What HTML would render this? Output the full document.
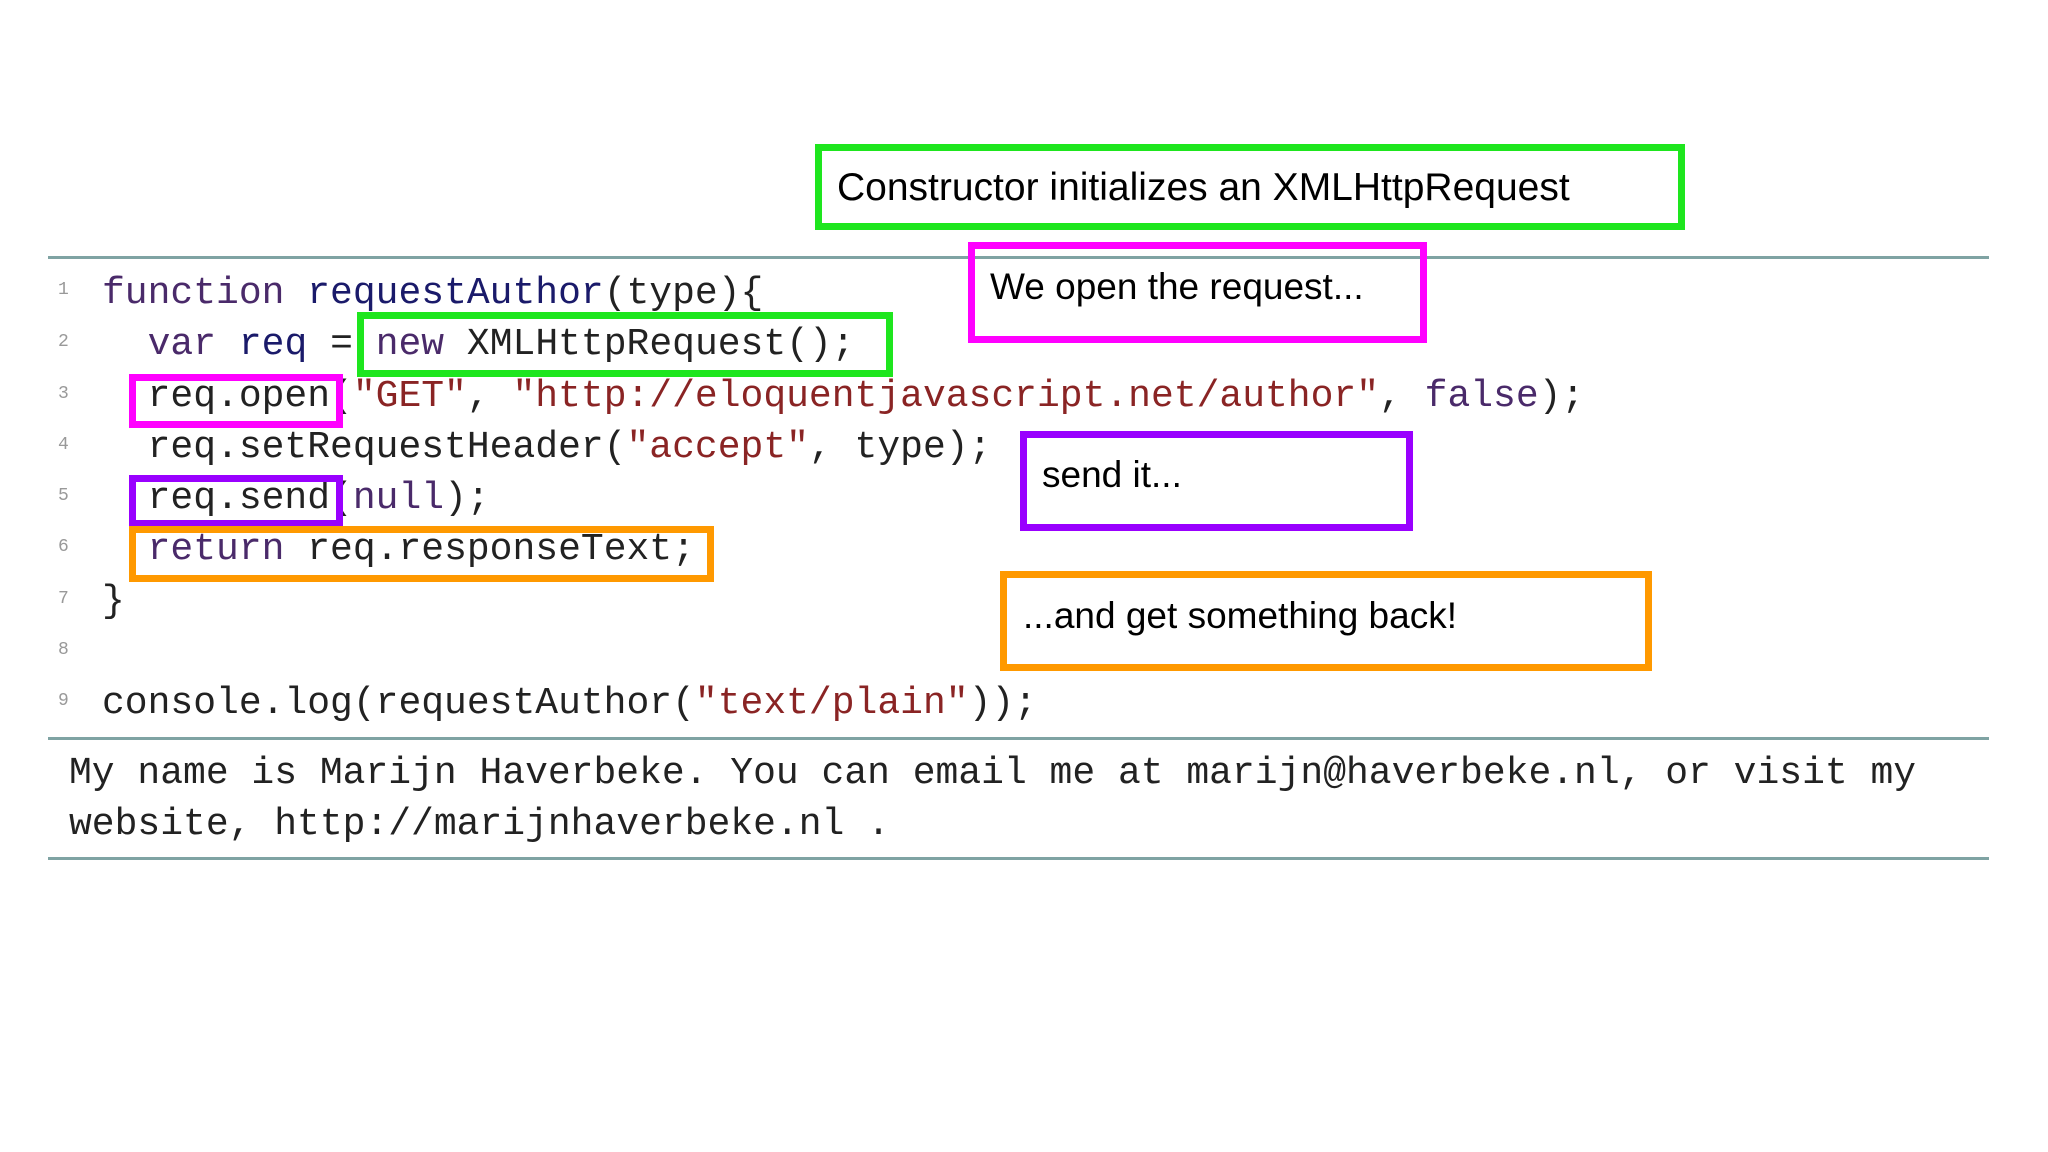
<!DOCTYPE html>
<html><head><meta charset="utf-8"><style>
html,body{margin:0;padding:0;background:#fff;}
body{width:2048px;height:1152px;position:relative;overflow:hidden;font-family:"Liberation Sans",sans-serif;}
.hr{position:absolute;left:48px;width:1941px;height:3px;background:#7fa3a3;}
.code{position:absolute;font-family:"Liberation Mono",monospace;font-size:38px;color:#222;white-space:pre;line-height:51px;transform-origin:left center;}
.ln{position:absolute;left:58px;font-family:"Liberation Mono",monospace;font-size:18px;color:#999;}
.kw{color:#4a2a6a}.st{color:#8a2424}.df{color:#1a1a6a}
.box{position:absolute;box-sizing:border-box;border:7px solid;}
.lbl{position:absolute;font-size:37px;color:#000;white-space:nowrap;line-height:40px;}
</style></head><body>
<div class="hr" style="top:256px"></div>
<div class="hr" style="top:737px"></div>
<div class="hr" style="top:857px"></div>

<div class="ln" style="top:280px">1</div>
<div class="ln" style="top:332px">2</div>
<div class="ln" style="top:384px">3</div>
<div class="ln" style="top:435px">4</div>
<div class="ln" style="top:486px">5</div>
<div class="ln" style="top:537px">6</div>
<div class="ln" style="top:589px">7</div>
<div class="ln" style="top:640px">8</div>
<div class="ln" style="top:691px">9</div>

<div class="code" style="left:102px;top:268px"><span class="kw">function</span> <span class="df">requestAuthor</span>(type){</div>
<div class="code" style="left:102px;top:319px">  <span class="kw">var</span> <span class="df">req</span> = <span class="kw">new</span> XMLHttpRequest();</div>
<div class="code" style="left:102px;top:371px">  req.open(<span class="st">"GET"</span>, <span class="st">"http://eloquentjavascript.net/author"</span>, <span class="kw">false</span>);</div>
<div class="code" style="left:102px;top:422px">  req.setRequestHeader(<span class="st">"accept"</span>, type);</div>
<div class="code" style="left:102px;top:473px">  req.send(<span class="kw">null</span>);</div>
<div class="code" style="left:102px;top:524px">  <span class="kw">return</span> req.responseText;</div>
<div class="code" style="left:102px;top:576px">}</div>
<div class="code" style="left:102px;top:678px">console.log(requestAuthor(<span class="st">"text/plain"</span>));</div>

<div class="code" style="left:69px;top:748px">My name is Marijn Haverbeke. You can email me at marijn@haverbeke.nl, or visit my</div>
<div class="code" style="left:69px;top:799px">website, http://marijnhaverbeke.nl .</div>

<div class="box" style="left:357px;top:312px;width:536px;height:65px;border-color:#1ee61e"></div>
<div class="box" style="left:129px;top:374px;width:214px;height:54px;border-color:#ff00ff"></div>
<div class="box" style="left:129px;top:475px;width:214px;height:52px;border-color:#9900ff"></div>
<div class="box" style="left:129px;top:526px;width:585px;height:56px;border-color:#ff9900"></div>

<div class="box" style="left:815px;top:144px;width:870px;height:86px;border-color:#1ee61e"></div>
<div class="lbl" style="left:837px;top:168px;font-size:39px">Constructor initializes an XMLHttpRequest</div>
<div class="box" style="left:968px;top:242px;width:459px;height:101px;border-color:#ff00ff"></div>
<div class="lbl" style="left:990px;top:267px">We open the request...</div>
<div class="box" style="left:1020px;top:431px;width:393px;height:100px;border-color:#9900ff"></div>
<div class="lbl" style="left:1042px;top:455px">send it...</div>
<div class="box" style="left:1000px;top:571px;width:652px;height:100px;border-color:#ff9900"></div>
<div class="lbl" style="left:1023px;top:596px">...and get something back!</div>
</body></html>
